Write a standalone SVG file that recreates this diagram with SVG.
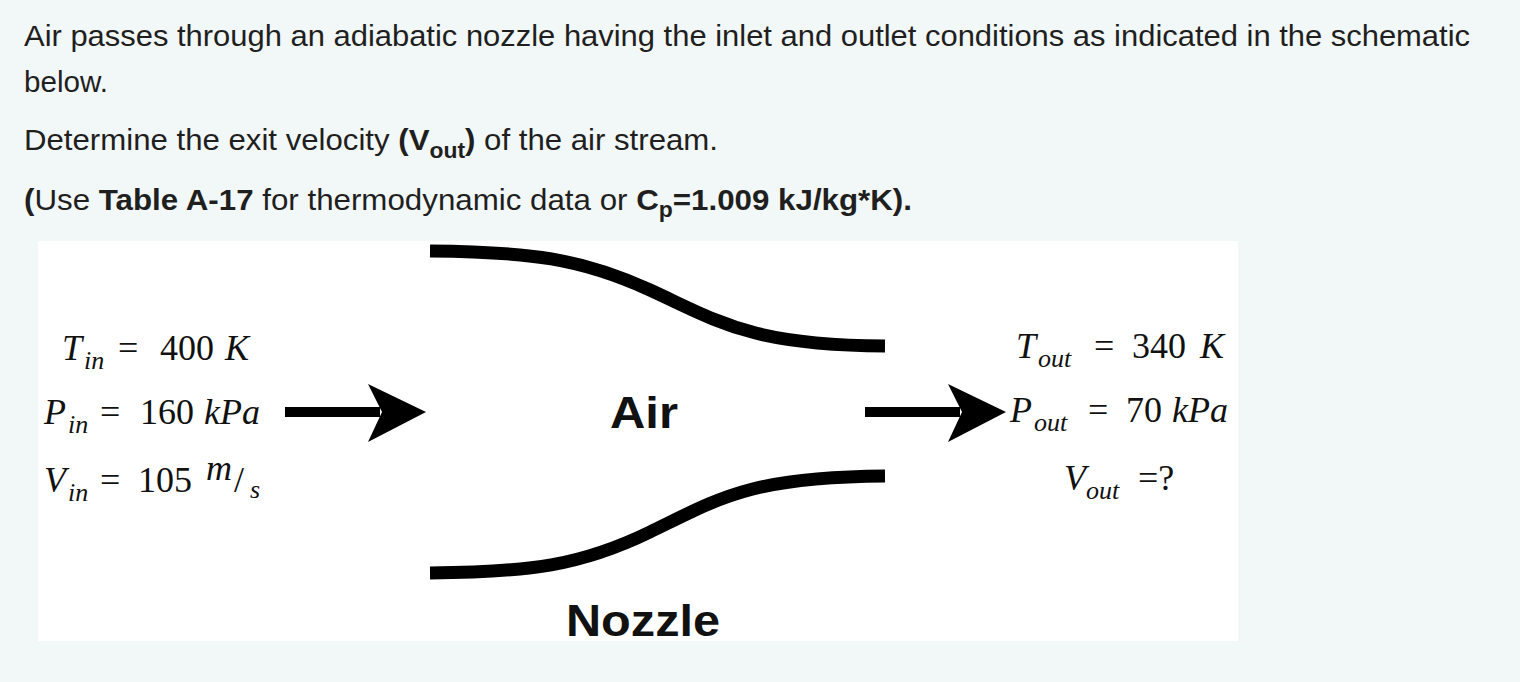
<svg xmlns="http://www.w3.org/2000/svg" width="1520" height="682" viewBox="0 0 1520 682">
<style>
.p{font-family:"Liberation Sans",Arial,sans-serif;font-size:30px;fill:#1f1f1f}
.m{font-family:"Liberation Serif",serif;font-size:36px;fill:#111}
.i{font-style:italic}
.s{font-size:26px}
.w{stroke:#000;stroke-width:13;fill:none}
.lbl{font-family:"Liberation Sans",Arial,sans-serif;font-size:44px;font-weight:bold;fill:#111}
</style>
<rect width="1520" height="682" fill="#f2f7f7"/>
<g id="text">
<text class="p" x="24" y="46" textLength="1446" lengthAdjust="spacingAndGlyphs">Air passes through an adiabatic nozzle having the inlet and outlet conditions as indicated in the schematic</text>
<text class="p" x="24" y="92" textLength="84" lengthAdjust="spacingAndGlyphs">below.</text>
<text class="p" x="24" y="150" textLength="694" lengthAdjust="spacingAndGlyphs">Determine the exit velocity <tspan font-weight="bold">(V<tspan font-size="22" dy="8">out</tspan><tspan dy="-8">)</tspan></tspan> of the air stream.</text>
<text class="p" x="24" y="210" textLength="888" lengthAdjust="spacingAndGlyphs"><tspan font-weight="bold">(</tspan>Use <tspan font-weight="bold">Table A-17</tspan> for thermodynamic data or <tspan font-weight="bold">C<tspan font-size="22" dy="7">p</tspan><tspan dy="-7">=1.009 kJ/kg*K).</tspan></tspan></text>
</g>
<rect x="38" y="241" width="1200" height="400" fill="#fff"/>
<g id="nozzle">
<path class="w" d="M430 251 C530 252 580 258 650 290 C720 322 750 345 885 346"/>
<path class="w" d="M430 573 C530 572 580 566 650 532 C720 498 750 477 885 476"/>
<text class="lbl" x="610" y="428" textLength="68" lengthAdjust="spacingAndGlyphs">Air</text>
<text class="lbl" x="566" y="636" textLength="154" lengthAdjust="spacingAndGlyphs">Nozzle</text>
</g>
<g id="connectors">
<path d="M285 412 H380" stroke="#000" stroke-width="10"/>
<path d="M368 384 L426 412 L368 442 L382 412 Z" fill="#000"/>
<path d="M865 412 H960" stroke="#000" stroke-width="10"/>
<path d="M948 384 L1006 412 L948 442 L962 412 Z" fill="#000"/>
</g>
<g id="inlet">
<text class="m" y="360"><tspan class="i" x="62">T</tspan><tspan class="i s" x="84" dy="9">in</tspan><tspan x="118" dy="-9">=</tspan><tspan x="160">400</tspan><tspan class="i" x="225">K</tspan></text>
<text class="m" y="424"><tspan class="i" x="44">P</tspan><tspan class="i s" x="68" dy="9">in</tspan><tspan x="100" dy="-9">=</tspan><tspan x="140">160</tspan><tspan class="i" x="204">kPa</tspan></text>
<text class="m" y="492"><tspan class="i" x="44">V</tspan><tspan class="i s" x="68" dy="9">in</tspan><tspan x="100" dy="-9">=</tspan><tspan x="138">105</tspan><tspan class="i" x="206" dy="-12">m</tspan><tspan x="234" dy="12">/</tspan><tspan class="i s" x="250" dy="6">s</tspan></text>
</g>
<g id="outlet">
<text class="m" y="358"><tspan class="i" x="1016">T</tspan><tspan class="i s" x="1038" dy="9">out</tspan><tspan x="1094" dy="-9">=</tspan><tspan x="1132">340</tspan><tspan class="i" x="1200">K</tspan></text>
<text class="m" y="422"><tspan class="i" x="1010">P</tspan><tspan class="i s" x="1034" dy="9">out</tspan><tspan x="1088" dy="-9">=</tspan><tspan x="1126">70</tspan><tspan class="i" x="1172">kPa</tspan></text>
<text class="m" y="490"><tspan class="i" x="1064">V</tspan><tspan class="i s" x="1086" dy="9">out</tspan><tspan x="1138" dy="-9">=?</tspan></text>
</g>
</svg>
